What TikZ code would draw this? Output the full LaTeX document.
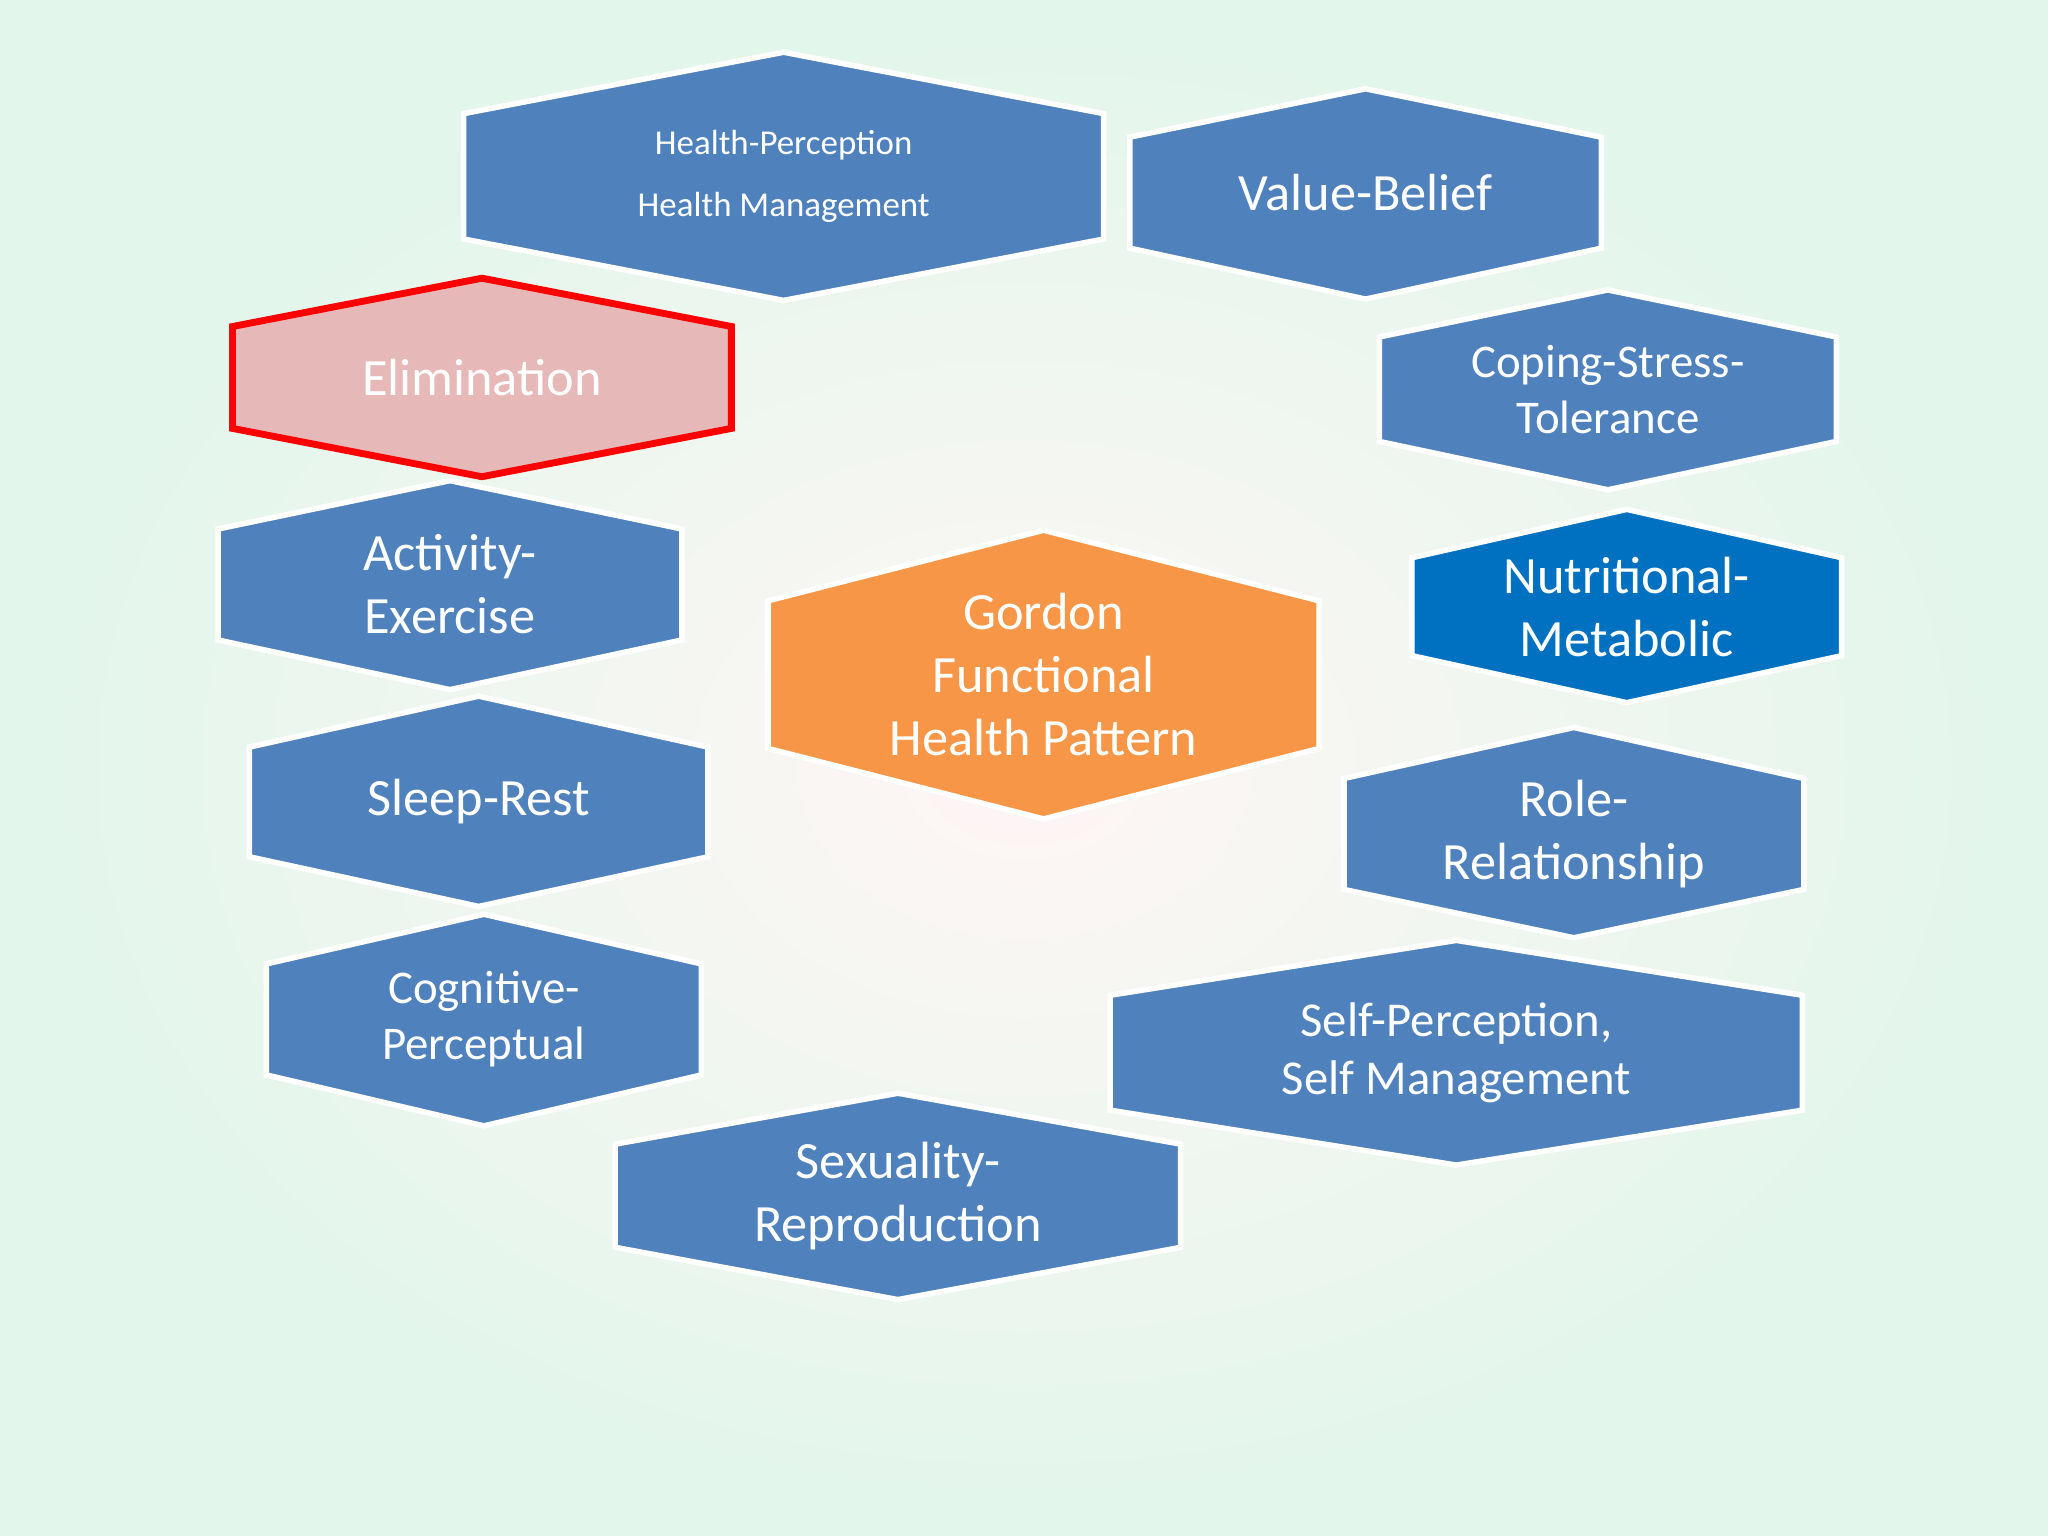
\documentclass[tikz,border=0pt]{standalone}
\usepackage{fontspec}
\setmainfont{Carlito}
\begin{document}
\begin{tikzpicture}[x=0.01cm,y=-0.01cm]
\definecolor{hb}{HTML}{4F81BD}
\definecolor{hpink}{HTML}{E6B8B7}
\definecolor{horange}{HTML}{F79646}
\definecolor{hdeep}{HTML}{0070C0}
\tikzset{hexblue/.style={fill=hb,draw=white,line width=1.2pt},
 hexpink/.style={fill=hpink,draw=red,line width=1.5pt},
 hexorange/.style={fill=horange,draw=white,line width=1.2pt},
 hexdeep/.style={fill=hdeep,draw=white,line width=1.2pt},
 lbl/.style={text=white,align=center,font=\fontsize{11.4}{13.7}\selectfont},
 sml/.style={text=white,align=center,font=\fontsize{7.6}{13.4}\selectfont}}
\useasboundingbox (0,0) rectangle (1568,1176);
\shade[inner color=white!85!pink, outer color=white!88!green!95!blue!70] (0,0) rectangle (1568,1176);
\newcommand{\hexa}[9]{%
 \pgfmathsetmacro{\cx}{(#2+#3)/2}\pgfmathsetmacro{\cy}{(#5+#6)/2}%
 \path[#8] (#2,#5) -- (\cx,#4) -- (#3,#5) -- (#3,#6) -- (\cx,#7) -- (#2,#6) -- cycle;
 \node[#9] (#1) at (\cx,\cy) }
\hexa{hp}{355}{845}{40}{87}{183}{230}{hexblue}{sml}{Health-Perception\\Health Management};
\hexa{vb}{865}{1226}{68}{105}{190}{229}{hexblue}{lbl}{Value-Belief};
\hexa{el}{178}{560}{213}{250}{328}{365}{hexpink}{lbl}{Elimination};
\hexa{cs}{1056}{1406}{222}{258}{338}{375}{hexblue}{lbl,font=\fontsize{10.2}{12.2}\selectfont}{Coping-Stress-\\Tolerance};
\hexa{ae}{167}{522}{368}{405}{490}{528}{hexblue}{lbl}{Activity-\\Exercise};
\hexa{gf}{588}{1010}{406}{460}{573}{627}{hexorange}{lbl}{Gordon\\Functional\\Health Pattern};
\hexa{nm}{1081}{1410}{390}{427}{502}{538}{hexdeep}{lbl}{Nutritional-\\Metabolic};
\hexa{sr}{191}{542}{533}{572}{656}{694}{hexblue}{lbl}{Sleep-Rest};
\hexa{rr}{1029}{1381}{557}{596}{681}{718}{hexblue}{lbl}{Role-\\Relationship};
\hexa{cp}{204}{537}{700}{738}{823}{862}{hexblue}{lbl,font=\fontsize{10.2}{12.2}\selectfont}{Cognitive-\\Perceptual};
\hexa{sp}{850}{1380}{720}{762}{850}{892}{hexblue}{lbl,font=\fontsize{10.6}{12.8}\selectfont}{Self-Perception,\\Self Management};
\hexa{sx}{471}{904}{837}{876}{955}{995}{hexblue}{lbl}{Sexuality-\\Reproduction};
\end{tikzpicture}
\end{document}
